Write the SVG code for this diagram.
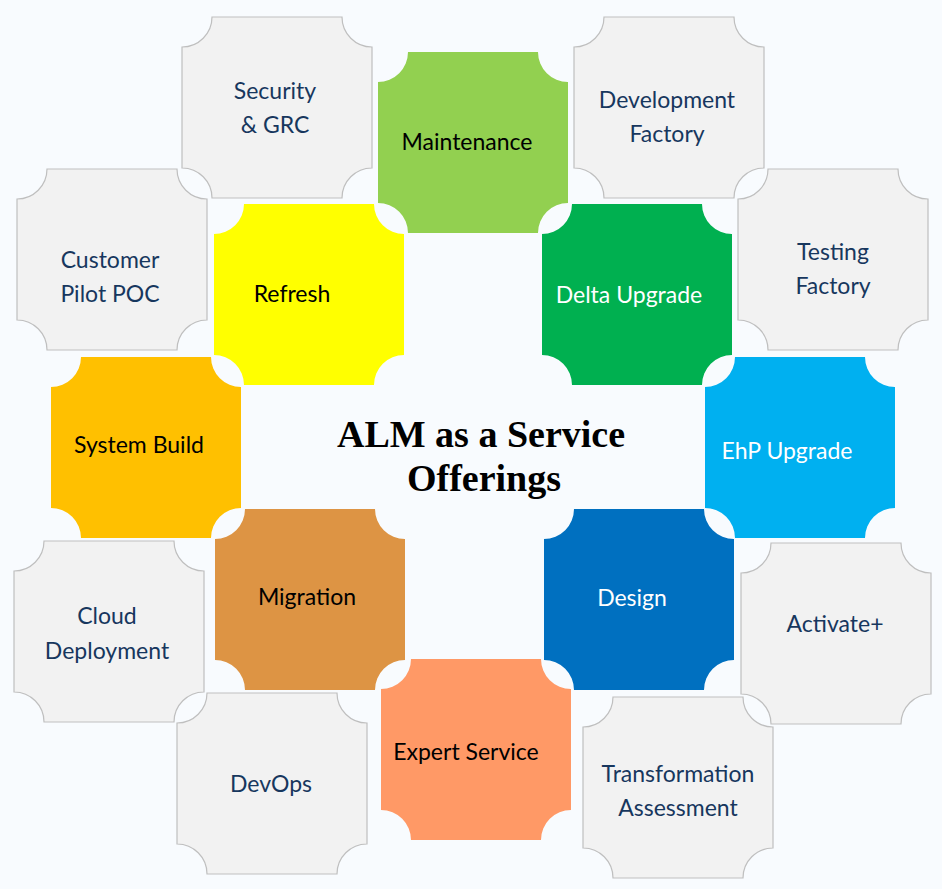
<svg xmlns="http://www.w3.org/2000/svg" width="942" height="889" viewBox="0 0 942 889">
<defs>
<path id="s" d="M30,0 h130 a30,30 0 0 0 30,30 v121 a30,30 0 0 0 -30,30 h-130 a30,30 0 0 0 -30,-30 v-121 a30,30 0 0 0 30,-30 z"/>
</defs>
<style>
.g{fill:#f2f2f2;stroke:#bfbfbf;stroke-width:1.2}
.gt{font-family:Lato,"Noto Sans",sans-serif;font-size:23px;fill:#17375e;text-anchor:middle}
.ct{font-family:Lato,"Noto Sans",sans-serif;font-size:23px;fill:#000;text-anchor:middle}
.wt{fill:#fff}
</style>
<rect width="942" height="889" fill="#f8fbfe"/>
<g id="security" transform="translate(182,17)"><use href="#s" class="g"/><text class="gt" x="93" y="82">Security</text><text class="gt" x="93" y="116">&amp; GRC</text></g>
<g id="devfactory" transform="translate(574,17)"><use href="#s" class="g"/><text class="gt" x="93" y="91">Development</text><text class="gt" x="93" y="125">Factory</text></g>
<g id="customer" transform="translate(17,169)"><use href="#s" class="g"/><text class="gt" x="93" y="99">Customer</text><text class="gt" x="93" y="133">Pilot POC</text></g>
<g id="testing" transform="translate(738,169)"><use href="#s" class="g"/><text class="gt" x="95" y="91">Testing</text><text class="gt" x="95" y="125">Factory</text></g>
<g id="cloud" transform="translate(14,541)"><use href="#s" class="g"/><text class="gt" x="93" y="83">Cloud</text><text class="gt" x="93" y="118">Deployment</text></g>
<g id="activate" transform="translate(741,543)"><use href="#s" class="g"/><text class="gt" x="94" y="89">Activate+</text></g>
<g id="devops" transform="translate(177,693)"><use href="#s" class="g"/><text class="gt" x="94" y="99">DevOps</text></g>
<g id="transformation" transform="translate(583,697)"><use href="#s" class="g"/><text class="gt" x="95" y="85">Transformation</text><text class="gt" x="95" y="119">Assessment</text></g>
<g id="maintenance" transform="translate(378,52)"><use href="#s" fill="#92d050"/><text class="ct" x="89" y="98">Maintenance</text></g>
<g id="refresh" transform="translate(214,204)"><use href="#s" fill="#ffff00"/><text class="ct" x="78" y="98">Refresh</text></g>
<g id="delta" transform="translate(542,204)"><use href="#s" fill="#00b050"/><text class="ct wt" x="87" y="99">Delta Upgrade</text></g>
<g id="systembuild" transform="translate(51,357)"><use href="#s" fill="#ffc000"/><text class="ct" x="88" y="96">System Build</text></g>
<g id="ehp" transform="translate(705,357)"><use href="#s" fill="#00b0f0"/><text class="ct wt" x="82" y="102">EhP Upgrade</text></g>
<g id="migration" transform="translate(215,509)"><use href="#s" fill="#dd9444"/><text class="ct" x="92" y="96">Migration</text></g>
<g id="design" transform="translate(544,509)"><use href="#s" fill="#0070c0"/><text class="ct wt" x="88" y="97">Design</text></g>
<g id="expert" transform="translate(381,659)"><use href="#s" fill="#ff9966"/><text class="ct" x="85" y="101">Expert Service</text></g>
<g id="title"><text x="481" y="447" font-family="'Liberation Serif',serif" font-weight="bold" font-size="38" text-anchor="middle">ALM as a Service</text><text x="484" y="491" font-family="'Liberation Serif',serif" font-weight="bold" font-size="38" text-anchor="middle">Offerings</text></g>
<g id="connectors"/>
</svg>
